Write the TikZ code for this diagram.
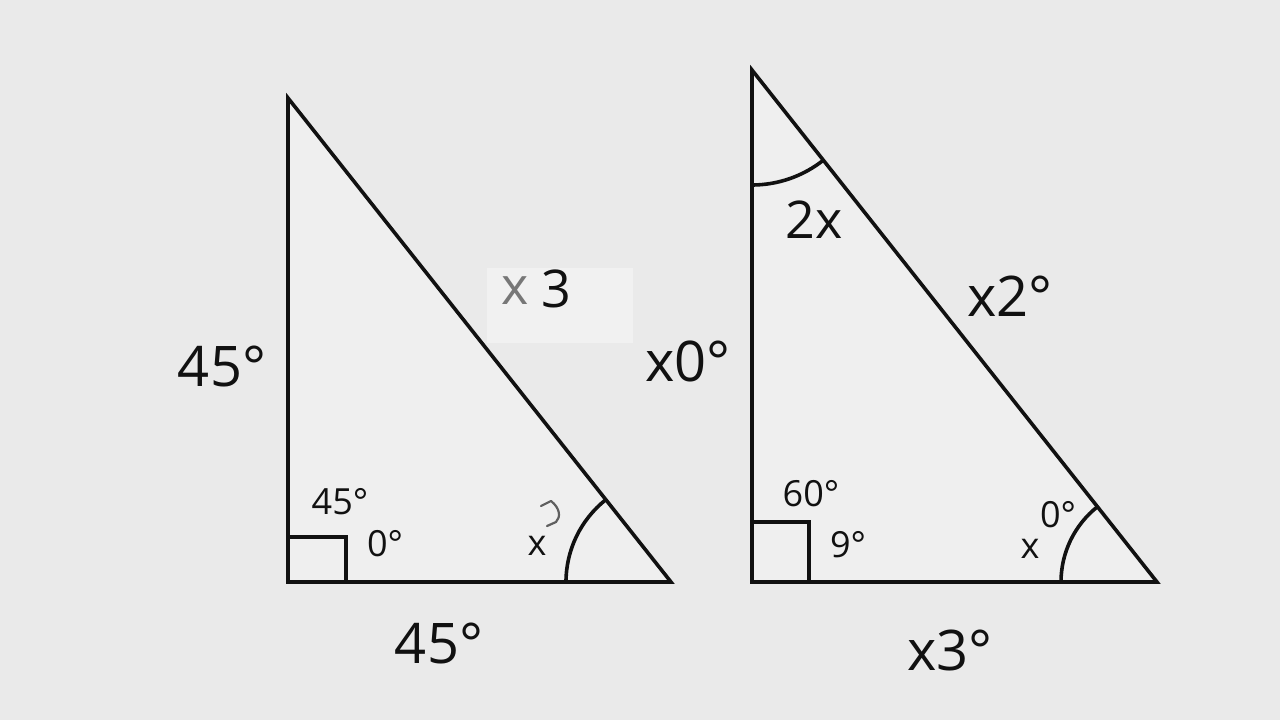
\documentclass[tikz,border=0pt]{standalone}
\usepackage{fontspec}
\setmainfont{Open Sans}
\usetikzlibrary{calc}
\definecolor{bg}{HTML}{EAEAEA}
\definecolor{tri}{HTML}{EFEFEF}
\definecolor{boxc}{HTML}{F1F1F1}
\definecolor{ink}{HTML}{111111}
\definecolor{grayx}{HTML}{777777}
\tikzset{
  edge/.style={line width=1.8pt, draw=ink, line join=miter},
  big/.style={font=\fontsize{28}{30}\selectfont, text=ink, inner sep=0pt},
  mid/.style={font=\fontsize{26}{28}\selectfont, text=ink, inner sep=0pt},
  small/.style={font=\fontsize{18}{20}\selectfont, text=ink, inner sep=0pt},
}
\begin{document}
\begin{tikzpicture}[x=0.5pt,y=0.5pt]
\fill[bg] (0,0) rectangle (1280,-720);
\useasboundingbox (0,0) rectangle (1280,-720);
% left triangle
\coordinate (LA) at (288,-98);
\coordinate (LB) at (288,-582);
\coordinate (LC) at (671,-582);
\fill[tri] (LA) -- (LB) -- (LC) -- cycle;
\draw[edge] (LA) -- (LB) -- (LC) -- cycle;
\draw[edge] ($(LB)+(0,45)$) -- ($(LB)+(58,45)$) -- ($(LB)+(58,0)$);
\draw[edge] ($(LC)+(-105,0)$) arc[start angle=180, end angle=128.35, radius=52.5pt];
% right triangle
\coordinate (RA) at (752,-70);
\coordinate (RB) at (752,-582);
\coordinate (RC) at (1157,-582);
\fill[tri] (RA) -- (RB) -- (RC) -- cycle;
\draw[edge] (RA) -- (RB) -- (RC) -- cycle;
\draw[edge] ($(RB)+(0,60)$) -- ($(RB)+(57,60)$) -- ($(RB)+(57,0)$);
\draw[edge] ($(RA)+(0,-115)$) arc[start angle=270, end angle=308.35, radius=57.5pt];
\draw[edge] ($(RC)+(-96,0)$) arc[start angle=180, end angle=128.35, radius=48pt];
% box with x3
\fill[boxc] (487,-268) rectangle (633,-343);
\node[mid, text=grayx] (bx) at (515,-291) {x};
\node[mid] (b3) at (556,-289) {3};
% left labels
\node[big] (l45a) at (222,-366) {45°};
\node[big] (l45b) at (439,-643) {45°};
\node[small] (l45c) at (340,-502) {45°};
\node[small] (l0) at (385,-544) {0°};
\node[small] (lx) at (537,-546) {x};
\draw[line width=1.1pt, draw=grayx!80!black, line cap=round, line join=round]
  (541,-506) -- (551,-501) .. controls (560,-508) and (561,-517) .. (556,-522) -- (547,-526);
% right labels
\node[big] (rx0) at (688,-361) {x0°};
\node[mid] (r2x) at (814,-220) {2x};
\node[big] (rx2) at (1010,-296) {x2°};
\node[big] (rx3) at (950,-650) {x3°};
\node[small] (r60) at (811,-494) {60°};
\node[small] (r9) at (848,-545) {9°};
\node[small] (rx) at (1030,-549) {x};
\node[small] (r0) at (1058,-515) {0°};
\end{tikzpicture}
\end{document}
